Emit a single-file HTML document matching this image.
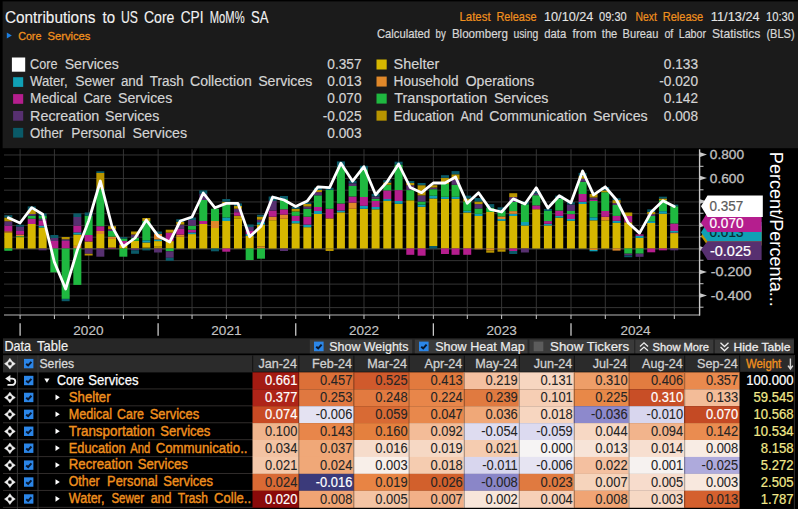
<!DOCTYPE html>
<html><head><meta charset="utf-8"><title>Contributions to US Core CPI MoM% SA</title>
<style>html,body{margin:0;padding:0;background:#000;overflow:hidden}svg{display:block}text{font-family:"Liberation Sans",sans-serif}</style>
</head><body>
<svg width="798" height="509" viewBox="0 0 798 509">
<rect x="0.00" y="0.00" width="798.00" height="509.00" fill="#000"/>
<rect x="2.60" y="1.40" width="795.40" height="146.80" fill="#1b1b1b"/>
<text y="23" font-size="16.5" fill="#f2f2f2" stroke="#f2f2f2" stroke-width="0.12"><tspan x="4.9" textLength="90.5" lengthAdjust="spacingAndGlyphs">Contributions</tspan> <tspan x="102.5" textLength="12.5" lengthAdjust="spacingAndGlyphs">to</tspan> <tspan x="121" textLength="16.9" lengthAdjust="spacingAndGlyphs">US</tspan> <tspan x="143.9" textLength="30.5" lengthAdjust="spacingAndGlyphs">Core</tspan> <tspan x="180.7" textLength="22.8" lengthAdjust="spacingAndGlyphs">CPI</tspan> <tspan x="209.8" textLength="34.8" lengthAdjust="spacingAndGlyphs">MoM%</tspan> <tspan x="250.9" textLength="17.5" lengthAdjust="spacingAndGlyphs">SA</tspan></text>
<path d="M6.8 32.4 L11.8 35.45 L6.8 38.5 Z" fill="#1e7fe0"/>
<text y="39.5" font-size="11.8" fill="#f0901e" stroke="#f0901e" stroke-width="0.3"><tspan x="18.2" textLength="23.2" lengthAdjust="spacingAndGlyphs">Core</tspan> <tspan x="47.4" textLength="43.1" lengthAdjust="spacingAndGlyphs">Services</tspan></text>
<text y="21" font-size="11.9" fill="#f0901e" stroke="#f0901e" stroke-width="0.2"><tspan x="459.5" textLength="31.1" lengthAdjust="spacingAndGlyphs">Latest</tspan> <tspan x="496.4" textLength="40.1" lengthAdjust="spacingAndGlyphs">Release</tspan></text>
<text y="21" font-size="11.9" fill="#e4e4e4" stroke="#e4e4e4" stroke-width="0.1"><tspan x="544" textLength="49.4" lengthAdjust="spacingAndGlyphs">10/10/24</tspan> <tspan x="599.1" textLength="27.6" lengthAdjust="spacingAndGlyphs">09:30</tspan></text>
<text y="21" font-size="11.9" fill="#f0901e" stroke="#f0901e" stroke-width="0.2"><tspan x="635.6" textLength="21.3" lengthAdjust="spacingAndGlyphs">Next</tspan> <tspan x="662.7" textLength="40.6" lengthAdjust="spacingAndGlyphs">Release</tspan></text>
<text y="21" font-size="11.9" fill="#e4e4e4" stroke="#e4e4e4" stroke-width="0.1"><tspan x="710.8" textLength="48.9" lengthAdjust="spacingAndGlyphs">11/13/24</tspan> <tspan x="765.9" textLength="28.1" lengthAdjust="spacingAndGlyphs">10:30</tspan></text>
<text y="37.8" font-size="11.9" fill="#d6d6d6" stroke="#d6d6d6" stroke-width="0.2"><tspan x="376.9" textLength="53.2" lengthAdjust="spacingAndGlyphs">Calculated</tspan> <tspan x="435.6" textLength="10.2" lengthAdjust="spacingAndGlyphs">by</tspan> <tspan x="451.9" textLength="56.0" lengthAdjust="spacingAndGlyphs">Bloomberg</tspan> <tspan x="513.4" textLength="24.8" lengthAdjust="spacingAndGlyphs">using</tspan> <tspan x="544.3" textLength="22.0" lengthAdjust="spacingAndGlyphs">data</tspan> <tspan x="572.5" textLength="23.9" lengthAdjust="spacingAndGlyphs">from</tspan> <tspan x="601.8" textLength="15.5" lengthAdjust="spacingAndGlyphs">the</tspan> <tspan x="622.6" textLength="35.8" lengthAdjust="spacingAndGlyphs">Bureau</tspan> <tspan x="664.4" textLength="8.9" lengthAdjust="spacingAndGlyphs">of</tspan> <tspan x="678.7" textLength="27.4" lengthAdjust="spacingAndGlyphs">Labor</tspan> <tspan x="712" textLength="48.4" lengthAdjust="spacingAndGlyphs">Statistics</tspan> <tspan x="766.4" textLength="28.3" lengthAdjust="spacingAndGlyphs">(BLS)</tspan></text>
<rect x="11.90" y="57.50" width="13.30" height="14.20" fill="#ffffff"/>
<text y="69.3" font-size="14.0" fill="#d4d4d4" stroke="#d4d4d4" stroke-width="0.18"><tspan x="30.1" textLength="27.4" lengthAdjust="spacingAndGlyphs">Core</tspan> <tspan x="64.7" textLength="54.1" lengthAdjust="spacingAndGlyphs">Services</tspan></text>
<text x="361.5" y="69.3" font-size="14.0" fill="#d4d4d4" text-anchor="end" textLength="34.16" lengthAdjust="spacingAndGlyphs" stroke="#d4d4d4" stroke-width="0.18">0.357</text>
<rect x="13.10" y="77.20" width="10.10" height="9.70" fill="#10a0b5"/>
<text y="86.35" font-size="14.0" fill="#d4d4d4" stroke="#d4d4d4" stroke-width="0.18"><tspan x="30.1" textLength="37.5" lengthAdjust="spacingAndGlyphs">Water,</tspan> <tspan x="75.3" textLength="39.2" lengthAdjust="spacingAndGlyphs">Sewer</tspan> <tspan x="120.9" textLength="22.4" lengthAdjust="spacingAndGlyphs">and</tspan> <tspan x="149.7" textLength="34.0" lengthAdjust="spacingAndGlyphs">Trash</tspan> <tspan x="190" textLength="61.8" lengthAdjust="spacingAndGlyphs">Collection</tspan> <tspan x="258.2" textLength="54.1" lengthAdjust="spacingAndGlyphs">Services</tspan></text>
<text x="361.5" y="86.35" font-size="14.0" fill="#d4d4d4" text-anchor="end" textLength="34.16" lengthAdjust="spacingAndGlyphs" stroke="#d4d4d4" stroke-width="0.18">0.013</text>
<rect x="13.10" y="94.10" width="10.10" height="9.70" fill="#b51e8e"/>
<text y="103.4" font-size="14.0" fill="#d4d4d4" stroke="#d4d4d4" stroke-width="0.18"><tspan x="30.1" textLength="47.0" lengthAdjust="spacingAndGlyphs">Medical</tspan> <tspan x="83.4" textLength="28.2" lengthAdjust="spacingAndGlyphs">Care</tspan> <tspan x="118" textLength="54.2" lengthAdjust="spacingAndGlyphs">Services</tspan></text>
<text x="361.5" y="103.4" font-size="14.0" fill="#d4d4d4" text-anchor="end" textLength="34.16" lengthAdjust="spacingAndGlyphs" stroke="#d4d4d4" stroke-width="0.18">0.070</text>
<rect x="13.10" y="111.00" width="10.10" height="9.70" fill="#573070"/>
<text y="121.25" font-size="14.0" fill="#d4d4d4" stroke="#d4d4d4" stroke-width="0.18"><tspan x="30.1" textLength="69.2" lengthAdjust="spacingAndGlyphs">Recreation</tspan> <tspan x="105" textLength="54.2" lengthAdjust="spacingAndGlyphs">Services</tspan></text>
<text x="361.5" y="121.25" font-size="14.0" fill="#d4d4d4" text-anchor="end" textLength="38.71" lengthAdjust="spacingAndGlyphs" stroke="#d4d4d4" stroke-width="0.18">-0.025</text>
<rect x="13.10" y="127.90" width="10.10" height="9.70" fill="#0a5a68"/>
<text y="137.5" font-size="14.0" fill="#d4d4d4" stroke="#d4d4d4" stroke-width="0.18"><tspan x="30.1" textLength="33.1" lengthAdjust="spacingAndGlyphs">Other</tspan> <tspan x="71.3" textLength="53.9" lengthAdjust="spacingAndGlyphs">Personal</tspan> <tspan x="132.4" textLength="54.7" lengthAdjust="spacingAndGlyphs">Services</tspan></text>
<text x="361.5" y="137.5" font-size="14.0" fill="#d4d4d4" text-anchor="end" textLength="34.16" lengthAdjust="spacingAndGlyphs" stroke="#d4d4d4" stroke-width="0.18">0.003</text>
<rect x="376.50" y="59.50" width="10.20" height="10.00" fill="#d6b700"/>
<text y="69.3" font-size="14.0" fill="#d4d4d4" stroke="#d4d4d4" stroke-width="0.18"><tspan x="393.6" textLength="45.6" lengthAdjust="spacingAndGlyphs">Shelter</tspan></text>
<text x="698" y="69.3" font-size="14.0" fill="#d4d4d4" text-anchor="end" textLength="34.16" lengthAdjust="spacingAndGlyphs" stroke="#d4d4d4" stroke-width="0.18">0.133</text>
<rect x="376.50" y="76.55" width="10.20" height="10.00" fill="#e0882a"/>
<text y="86.35" font-size="14.0" fill="#d4d4d4" stroke="#d4d4d4" stroke-width="0.18"><tspan x="393.6" textLength="64.9" lengthAdjust="spacingAndGlyphs">Household</tspan> <tspan x="465.7" textLength="68.6" lengthAdjust="spacingAndGlyphs">Operations</tspan></text>
<text x="698" y="86.35" font-size="14.0" fill="#d4d4d4" text-anchor="end" textLength="38.71" lengthAdjust="spacingAndGlyphs" stroke="#d4d4d4" stroke-width="0.18">-0.020</text>
<rect x="376.50" y="93.60" width="10.20" height="10.00" fill="#1fb840"/>
<text y="103.4" font-size="14.0" fill="#d4d4d4" stroke="#d4d4d4" stroke-width="0.18"><tspan x="394.2" textLength="93.1" lengthAdjust="spacingAndGlyphs">Transportation</tspan> <tspan x="493.9" textLength="54.5" lengthAdjust="spacingAndGlyphs">Services</tspan></text>
<text x="698" y="103.4" font-size="14.0" fill="#d4d4d4" text-anchor="end" textLength="34.16" lengthAdjust="spacingAndGlyphs" stroke="#d4d4d4" stroke-width="0.18">0.142</text>
<rect x="376.50" y="110.65" width="10.20" height="10.00" fill="#b89500"/>
<text y="121.25" font-size="14.0" fill="#d4d4d4" stroke="#d4d4d4" stroke-width="0.18"><tspan x="393.6" textLength="60.6" lengthAdjust="spacingAndGlyphs">Education</tspan> <tspan x="460.5" textLength="22.5" lengthAdjust="spacingAndGlyphs">And</tspan> <tspan x="489.3" textLength="97.4" lengthAdjust="spacingAndGlyphs">Communication</tspan> <tspan x="593.1" textLength="54.6" lengthAdjust="spacingAndGlyphs">Services</tspan></text>
<text x="698" y="121.25" font-size="14.0" fill="#d4d4d4" text-anchor="end" textLength="34.16" lengthAdjust="spacingAndGlyphs" stroke="#d4d4d4" stroke-width="0.18">0.008</text>
<line x1="4" y1="307.60" x2="699.5" y2="307.60" stroke="#3a3a3a" stroke-width="0.9"/><line x1="4" y1="295.86" x2="699.5" y2="295.86" stroke="#3a3a3a" stroke-width="0.9"/><line x1="4" y1="284.12" x2="699.5" y2="284.12" stroke="#3a3a3a" stroke-width="0.9"/><line x1="4" y1="272.38" x2="699.5" y2="272.38" stroke="#3a3a3a" stroke-width="0.9"/><line x1="4" y1="260.64" x2="699.5" y2="260.64" stroke="#3a3a3a" stroke-width="0.9"/><line x1="4" y1="248.90" x2="699.5" y2="248.90" stroke="#666666" stroke-width="0.9"/><line x1="4" y1="237.16" x2="699.5" y2="237.16" stroke="#3a3a3a" stroke-width="0.9"/><line x1="4" y1="225.42" x2="699.5" y2="225.42" stroke="#3a3a3a" stroke-width="0.9"/><line x1="4" y1="213.68" x2="699.5" y2="213.68" stroke="#3a3a3a" stroke-width="0.9"/><line x1="4" y1="201.94" x2="699.5" y2="201.94" stroke="#3a3a3a" stroke-width="0.9"/><line x1="4" y1="190.20" x2="699.5" y2="190.20" stroke="#3a3a3a" stroke-width="0.9"/><line x1="4" y1="178.46" x2="699.5" y2="178.46" stroke="#3a3a3a" stroke-width="0.9"/><line x1="4" y1="166.72" x2="699.5" y2="166.72" stroke="#3a3a3a" stroke-width="0.9"/><line x1="4" y1="154.98" x2="699.5" y2="154.98" stroke="#3a3a3a" stroke-width="0.9"/><line x1="20.10" y1="149.3" x2="20.10" y2="315" stroke="#3a3a3a" stroke-width="0.9"/><line x1="54.41" y1="149.3" x2="54.41" y2="315" stroke="#3a3a3a" stroke-width="0.9"/><line x1="88.73" y1="149.3" x2="88.73" y2="315" stroke="#3a3a3a" stroke-width="0.9"/><line x1="123.42" y1="149.3" x2="123.42" y2="315" stroke="#3a3a3a" stroke-width="0.9"/><line x1="158.11" y1="149.3" x2="158.11" y2="315" stroke="#3a3a3a" stroke-width="0.9"/><line x1="192.04" y1="149.3" x2="192.04" y2="315" stroke="#3a3a3a" stroke-width="0.9"/><line x1="226.36" y1="149.3" x2="226.36" y2="315" stroke="#3a3a3a" stroke-width="0.9"/><line x1="261.05" y1="149.3" x2="261.05" y2="315" stroke="#3a3a3a" stroke-width="0.9"/><line x1="295.74" y1="149.3" x2="295.74" y2="315" stroke="#3a3a3a" stroke-width="0.9"/><line x1="329.67" y1="149.3" x2="329.67" y2="315" stroke="#3a3a3a" stroke-width="0.9"/><line x1="363.99" y1="149.3" x2="363.99" y2="315" stroke="#3a3a3a" stroke-width="0.9"/><line x1="398.68" y1="149.3" x2="398.68" y2="315" stroke="#3a3a3a" stroke-width="0.9"/><line x1="433.37" y1="149.3" x2="433.37" y2="315" stroke="#3a3a3a" stroke-width="0.9"/><line x1="467.31" y1="149.3" x2="467.31" y2="315" stroke="#3a3a3a" stroke-width="0.9"/><line x1="501.62" y1="149.3" x2="501.62" y2="315" stroke="#3a3a3a" stroke-width="0.9"/><line x1="536.31" y1="149.3" x2="536.31" y2="315" stroke="#3a3a3a" stroke-width="0.9"/><line x1="571.00" y1="149.3" x2="571.00" y2="315" stroke="#3a3a3a" stroke-width="0.9"/><line x1="605.31" y1="149.3" x2="605.31" y2="315" stroke="#3a3a3a" stroke-width="0.9"/><line x1="639.63" y1="149.3" x2="639.63" y2="315" stroke="#3a3a3a" stroke-width="0.9"/><line x1="674.32" y1="149.3" x2="674.32" y2="315" stroke="#3a3a3a" stroke-width="0.9"/>
<rect x="4.33" y="232.70" width="8.0" height="15.80" fill="#d6b700"/><rect x="4.33" y="231.30" width="8.0" height="1.40" fill="#e0882a"/><rect x="4.33" y="225.70" width="8.0" height="5.60" fill="#b51e8e"/><rect x="4.33" y="221.30" width="8.0" height="4.40" fill="#573070"/><rect x="4.33" y="217.50" width="8.0" height="3.80" fill="#b89500"/><rect x="4.33" y="215.20" width="8.0" height="2.30" fill="#0a5a68"/><rect x="4.33" y="248.50" width="8.0" height="2.30" fill="#1fb840"/><rect x="16.02" y="237.10" width="8.0" height="11.40" fill="#d6b700"/><rect x="16.02" y="236.20" width="8.0" height="0.90" fill="#1fb840"/><rect x="16.02" y="234.50" width="8.0" height="1.70" fill="#e0882a"/><rect x="16.02" y="231.00" width="8.0" height="3.50" fill="#b51e8e"/><rect x="16.02" y="226.60" width="8.0" height="4.40" fill="#573070"/><rect x="16.02" y="224.80" width="8.0" height="1.80" fill="#0a5a68"/><rect x="27.71" y="224.00" width="8.0" height="24.50" fill="#d6b700"/><rect x="27.71" y="218.70" width="8.0" height="5.30" fill="#b51e8e"/><rect x="27.71" y="215.70" width="8.0" height="3.00" fill="#1fb840"/><rect x="27.71" y="214.00" width="8.0" height="1.70" fill="#573070"/><rect x="27.71" y="210.00" width="8.0" height="4.00" fill="#b89500"/><rect x="27.71" y="206.40" width="8.0" height="3.60" fill="#0a5a68"/><rect x="38.65" y="227.50" width="8.0" height="21.00" fill="#d6b700"/><rect x="38.65" y="225.70" width="8.0" height="1.80" fill="#10a0b5"/><rect x="38.65" y="220.40" width="8.0" height="5.30" fill="#b51e8e"/><rect x="38.65" y="218.70" width="8.0" height="1.70" fill="#573070"/><rect x="38.65" y="216.00" width="8.0" height="2.70" fill="#1fb840"/><rect x="38.65" y="213.40" width="8.0" height="2.60" fill="#0a5a68"/><rect x="38.65" y="248.50" width="8.0" height="1.80" fill="#573070"/><rect x="50.34" y="241.00" width="8.0" height="7.50" fill="#b51e8e"/><rect x="50.34" y="238.00" width="8.0" height="3.00" fill="#573070"/><rect x="50.34" y="235.00" width="8.0" height="3.00" fill="#0a5a68"/><rect x="50.34" y="248.50" width="8.0" height="23.80" fill="#1fb840"/><rect x="61.65" y="241.00" width="8.0" height="7.50" fill="#b51e8e"/><rect x="61.65" y="239.30" width="8.0" height="1.70" fill="#573070"/><rect x="61.65" y="237.00" width="8.0" height="2.30" fill="#b89500"/><rect x="61.65" y="248.50" width="8.0" height="50.40" fill="#1fb840"/><rect x="61.65" y="298.90" width="8.0" height="2.30" fill="#0a5a68"/><rect x="73.34" y="245.90" width="8.0" height="2.60" fill="#e0882a"/><rect x="73.34" y="234.50" width="8.0" height="11.40" fill="#d6b700"/><rect x="73.34" y="232.40" width="8.0" height="2.10" fill="#10a0b5"/><rect x="73.34" y="225.70" width="8.0" height="6.70" fill="#b51e8e"/><rect x="73.34" y="217.00" width="8.0" height="8.70" fill="#573070"/><rect x="73.34" y="213.40" width="8.0" height="3.60" fill="#0a5a68"/><rect x="73.34" y="248.50" width="8.0" height="36.40" fill="#1fb840"/><rect x="84.65" y="241.50" width="8.0" height="7.00" fill="#d6b700"/><rect x="84.65" y="235.00" width="8.0" height="6.50" fill="#b51e8e"/><rect x="84.65" y="215.70" width="8.0" height="19.30" fill="#1fb840"/><rect x="84.65" y="212.50" width="8.0" height="3.20" fill="#0a5a68"/><rect x="84.65" y="248.50" width="8.0" height="5.30" fill="#573070"/><rect x="84.65" y="253.80" width="8.0" height="1.70" fill="#b89500"/><rect x="96.34" y="234.00" width="8.0" height="14.50" fill="#d6b700"/><rect x="96.34" y="231.00" width="8.0" height="3.00" fill="#e0882a"/><rect x="96.34" y="226.20" width="8.0" height="4.80" fill="#b51e8e"/><rect x="96.34" y="188.90" width="8.0" height="37.30" fill="#1fb840"/><rect x="96.34" y="173.00" width="8.0" height="15.90" fill="#b89500"/><rect x="96.34" y="171.30" width="8.0" height="1.70" fill="#0a5a68"/><rect x="96.34" y="248.50" width="8.0" height="8.20" fill="#573070"/><rect x="108.03" y="247.60" width="8.0" height="0.90" fill="#b51e8e"/><rect x="108.03" y="238.90" width="8.0" height="8.70" fill="#d6b700"/><rect x="108.03" y="236.60" width="8.0" height="2.30" fill="#e0882a"/><rect x="108.03" y="231.00" width="8.0" height="5.60" fill="#1fb840"/><rect x="108.03" y="229.20" width="8.0" height="1.80" fill="#573070"/><rect x="108.03" y="226.20" width="8.0" height="3.00" fill="#b89500"/><rect x="119.34" y="245.00" width="8.0" height="3.50" fill="#d6b700"/><rect x="119.34" y="241.00" width="8.0" height="4.00" fill="#b51e8e"/><rect x="119.34" y="238.50" width="8.0" height="2.50" fill="#1fb840"/><rect x="119.34" y="237.10" width="8.0" height="1.40" fill="#0a5a68"/><rect x="119.34" y="248.50" width="8.0" height="8.20" fill="#1fb840"/><rect x="131.03" y="240.80" width="8.0" height="7.70" fill="#d6b700"/><rect x="131.03" y="237.60" width="8.0" height="3.20" fill="#1fb840"/><rect x="131.03" y="234.50" width="8.0" height="3.10" fill="#573070"/><rect x="131.03" y="231.50" width="8.0" height="3.00" fill="#b89500"/><rect x="131.03" y="248.50" width="8.0" height="1.80" fill="#573070"/><rect x="131.03" y="250.30" width="8.0" height="3.50" fill="#0a5a68"/><rect x="142.34" y="247.30" width="8.0" height="1.20" fill="#b89500"/><rect x="142.34" y="242.50" width="8.0" height="4.80" fill="#d6b700"/><rect x="142.34" y="240.30" width="8.0" height="2.20" fill="#10a0b5"/><rect x="142.34" y="221.00" width="8.0" height="19.30" fill="#1fb840"/><rect x="142.34" y="218.00" width="8.0" height="3.00" fill="#b89500"/><rect x="142.34" y="248.50" width="8.0" height="1.90" fill="#0a5a68"/><rect x="154.03" y="246.70" width="8.0" height="1.80" fill="#b89500"/><rect x="154.03" y="241.10" width="8.0" height="5.60" fill="#d6b700"/><rect x="154.03" y="239.40" width="8.0" height="1.70" fill="#10a0b5"/><rect x="154.03" y="234.00" width="8.0" height="5.40" fill="#e0882a"/><rect x="154.03" y="231.50" width="8.0" height="2.50" fill="#0a5a68"/><rect x="154.03" y="248.50" width="8.0" height="4.00" fill="#573070"/><rect x="165.72" y="241.10" width="8.0" height="7.40" fill="#d6b700"/><rect x="165.72" y="232.70" width="8.0" height="8.40" fill="#b51e8e"/><rect x="165.72" y="229.70" width="8.0" height="3.00" fill="#b89500"/><rect x="165.72" y="248.50" width="8.0" height="2.80" fill="#1fb840"/><rect x="165.72" y="251.30" width="8.0" height="6.50" fill="#573070"/><rect x="165.72" y="257.80" width="8.0" height="3.00" fill="#0a5a68"/><rect x="176.28" y="236.80" width="8.0" height="11.70" fill="#d6b700"/><rect x="176.28" y="234.60" width="8.0" height="2.20" fill="#e0882a"/><rect x="176.28" y="228.90" width="8.0" height="5.70" fill="#b51e8e"/><rect x="176.28" y="224.50" width="8.0" height="4.40" fill="#573070"/><rect x="176.28" y="221.80" width="8.0" height="2.70" fill="#b89500"/><rect x="176.28" y="219.20" width="8.0" height="2.60" fill="#0a5a68"/><rect x="187.97" y="234.10" width="8.0" height="14.40" fill="#d6b700"/><rect x="187.97" y="232.40" width="8.0" height="1.70" fill="#10a0b5"/><rect x="187.97" y="229.70" width="8.0" height="2.70" fill="#b51e8e"/><rect x="187.97" y="225.70" width="8.0" height="4.00" fill="#1fb840"/><rect x="187.97" y="220.00" width="8.0" height="5.70" fill="#573070"/><rect x="187.97" y="217.50" width="8.0" height="2.50" fill="#0a5a68"/><rect x="199.28" y="224.00" width="8.0" height="24.50" fill="#d6b700"/><rect x="199.28" y="221.00" width="8.0" height="3.00" fill="#b51e8e"/><rect x="199.28" y="200.00" width="8.0" height="21.00" fill="#1fb840"/><rect x="199.28" y="193.80" width="8.0" height="6.20" fill="#573070"/><rect x="199.28" y="190.30" width="8.0" height="3.50" fill="#0a5a68"/><rect x="210.97" y="228.00" width="8.0" height="20.50" fill="#d6b700"/><rect x="210.97" y="221.00" width="8.0" height="7.00" fill="#e0882a"/><rect x="210.97" y="208.70" width="8.0" height="12.30" fill="#1fb840"/><rect x="210.97" y="248.50" width="8.0" height="2.80" fill="#0a5a68"/><rect x="222.28" y="221.00" width="8.0" height="27.50" fill="#d6b700"/><rect x="222.28" y="217.50" width="8.0" height="3.50" fill="#10a0b5"/><rect x="222.28" y="204.30" width="8.0" height="13.20" fill="#1fb840"/><rect x="222.28" y="201.70" width="8.0" height="2.60" fill="#b89500"/><rect x="222.28" y="199.00" width="8.0" height="2.70" fill="#0a5a68"/><rect x="222.28" y="248.50" width="8.0" height="3.20" fill="#b51e8e"/><rect x="233.97" y="218.30" width="8.0" height="30.20" fill="#d6b700"/><rect x="233.97" y="215.70" width="8.0" height="2.60" fill="#b89500"/><rect x="233.97" y="212.20" width="8.0" height="3.50" fill="#b51e8e"/><rect x="233.97" y="208.70" width="8.0" height="3.50" fill="#573070"/><rect x="233.97" y="206.00" width="8.0" height="2.70" fill="#b89500"/><rect x="233.97" y="203.40" width="8.0" height="2.60" fill="#0a5a68"/><rect x="245.66" y="235.90" width="8.0" height="12.60" fill="#d6b700"/><rect x="245.66" y="234.10" width="8.0" height="1.80" fill="#10a0b5"/><rect x="245.66" y="231.00" width="8.0" height="3.10" fill="#b51e8e"/><rect x="245.66" y="227.00" width="8.0" height="4.00" fill="#573070"/><rect x="245.66" y="224.50" width="8.0" height="2.50" fill="#0a5a68"/><rect x="245.66" y="248.50" width="8.0" height="11.50" fill="#1fb840"/><rect x="256.97" y="246.40" width="8.0" height="2.10" fill="#e0882a"/><rect x="256.97" y="224.50" width="8.0" height="21.90" fill="#d6b700"/><rect x="256.97" y="222.20" width="8.0" height="2.30" fill="#10a0b5"/><rect x="256.97" y="219.70" width="8.0" height="2.50" fill="#573070"/><rect x="256.97" y="216.60" width="8.0" height="3.10" fill="#b89500"/><rect x="256.97" y="214.80" width="8.0" height="1.80" fill="#0a5a68"/><rect x="256.97" y="248.50" width="8.0" height="10.20" fill="#1fb840"/><rect x="268.66" y="220.20" width="8.0" height="28.30" fill="#d6b700"/><rect x="268.66" y="216.70" width="8.0" height="3.50" fill="#e0882a"/><rect x="268.66" y="210.50" width="8.0" height="6.20" fill="#b51e8e"/><rect x="268.66" y="200.90" width="8.0" height="9.60" fill="#573070"/><rect x="268.66" y="196.50" width="8.0" height="4.40" fill="#0a5a68"/><rect x="279.97" y="218.80" width="8.0" height="29.70" fill="#d6b700"/><rect x="279.97" y="214.60" width="8.0" height="4.20" fill="#e0882a"/><rect x="279.97" y="209.30" width="8.0" height="5.30" fill="#b51e8e"/><rect x="279.97" y="199.10" width="8.0" height="10.20" fill="#1fb840"/><rect x="279.97" y="196.00" width="8.0" height="3.10" fill="#0a5a68"/><rect x="279.97" y="248.50" width="8.0" height="2.50" fill="#573070"/><rect x="291.66" y="223.30" width="8.0" height="25.20" fill="#d6b700"/><rect x="291.66" y="221.00" width="8.0" height="2.30" fill="#10a0b5"/><rect x="291.66" y="215.80" width="8.0" height="5.20" fill="#b51e8e"/><rect x="291.66" y="211.40" width="8.0" height="4.40" fill="#1fb840"/><rect x="291.66" y="208.80" width="8.0" height="2.60" fill="#b89500"/><rect x="291.66" y="207.00" width="8.0" height="1.80" fill="#0a5a68"/><rect x="303.35" y="227.20" width="8.0" height="21.30" fill="#d6b700"/><rect x="303.35" y="224.60" width="8.0" height="2.60" fill="#10a0b5"/><rect x="303.35" y="216.70" width="8.0" height="7.90" fill="#b51e8e"/><rect x="303.35" y="208.80" width="8.0" height="7.90" fill="#1fb840"/><rect x="303.35" y="206.50" width="8.0" height="2.30" fill="#573070"/><rect x="303.35" y="204.00" width="8.0" height="2.50" fill="#b89500"/><rect x="303.35" y="202.60" width="8.0" height="1.40" fill="#0a5a68"/><rect x="313.91" y="214.00" width="8.0" height="34.50" fill="#d6b700"/><rect x="313.91" y="211.00" width="8.0" height="3.00" fill="#10a0b5"/><rect x="313.91" y="207.00" width="8.0" height="4.00" fill="#b51e8e"/><rect x="313.91" y="195.30" width="8.0" height="11.70" fill="#1fb840"/><rect x="313.91" y="192.10" width="8.0" height="3.20" fill="#573070"/><rect x="313.91" y="190.00" width="8.0" height="2.10" fill="#b89500"/><rect x="313.91" y="187.70" width="8.0" height="2.30" fill="#0a5a68"/><rect x="325.60" y="218.40" width="8.0" height="30.10" fill="#d6b700"/><rect x="325.60" y="208.80" width="8.0" height="9.60" fill="#b51e8e"/><rect x="325.60" y="190.00" width="8.0" height="18.80" fill="#1fb840"/><rect x="325.60" y="187.70" width="8.0" height="2.30" fill="#0a5a68"/><rect x="325.60" y="248.50" width="8.0" height="2.50" fill="#b89500"/><rect x="336.91" y="212.30" width="8.0" height="36.20" fill="#d6b700"/><rect x="336.91" y="210.50" width="8.0" height="1.80" fill="#10a0b5"/><rect x="336.91" y="203.50" width="8.0" height="7.00" fill="#b51e8e"/><rect x="336.91" y="166.70" width="8.0" height="36.80" fill="#1fb840"/><rect x="336.91" y="161.40" width="8.0" height="5.30" fill="#0a5a68"/><rect x="348.60" y="208.80" width="8.0" height="39.70" fill="#d6b700"/><rect x="348.60" y="202.60" width="8.0" height="6.20" fill="#e0882a"/><rect x="348.60" y="196.50" width="8.0" height="6.10" fill="#b51e8e"/><rect x="348.60" y="186.00" width="8.0" height="10.50" fill="#1fb840"/><rect x="348.60" y="183.30" width="8.0" height="2.70" fill="#573070"/><rect x="348.60" y="180.70" width="8.0" height="2.60" fill="#0a5a68"/><rect x="359.91" y="208.80" width="8.0" height="39.70" fill="#d6b700"/><rect x="359.91" y="205.80" width="8.0" height="3.00" fill="#10a0b5"/><rect x="359.91" y="197.00" width="8.0" height="8.80" fill="#b51e8e"/><rect x="359.91" y="169.30" width="8.0" height="27.70" fill="#1fb840"/><rect x="359.91" y="165.80" width="8.0" height="3.50" fill="#0a5a68"/><rect x="371.60" y="209.30" width="8.0" height="39.20" fill="#d6b700"/><rect x="371.60" y="207.00" width="8.0" height="2.30" fill="#10a0b5"/><rect x="371.60" y="200.90" width="8.0" height="6.10" fill="#b51e8e"/><rect x="371.60" y="198.80" width="8.0" height="2.10" fill="#1fb840"/><rect x="371.60" y="196.50" width="8.0" height="2.30" fill="#573070"/><rect x="371.60" y="193.90" width="8.0" height="2.60" fill="#0a5a68"/><rect x="383.29" y="200.90" width="8.0" height="47.60" fill="#d6b700"/><rect x="383.29" y="199.10" width="8.0" height="1.80" fill="#10a0b5"/><rect x="383.29" y="190.40" width="8.0" height="8.70" fill="#b51e8e"/><rect x="383.29" y="184.70" width="8.0" height="5.70" fill="#1fb840"/><rect x="383.29" y="182.50" width="8.0" height="2.20" fill="#b89500"/><rect x="383.29" y="180.20" width="8.0" height="2.30" fill="#0a5a68"/><rect x="394.60" y="203.80" width="8.0" height="44.70" fill="#d6b700"/><rect x="394.60" y="201.00" width="8.0" height="2.80" fill="#10a0b5"/><rect x="394.60" y="190.10" width="8.0" height="10.90" fill="#b51e8e"/><rect x="394.60" y="164.60" width="8.0" height="25.50" fill="#1fb840"/><rect x="394.60" y="161.70" width="8.0" height="2.90" fill="#0a5a68"/><rect x="406.29" y="200.30" width="8.0" height="48.20" fill="#d6b700"/><rect x="406.29" y="190.10" width="8.0" height="10.20" fill="#1fb840"/><rect x="406.29" y="185.20" width="8.0" height="4.90" fill="#573070"/><rect x="406.29" y="183.00" width="8.0" height="2.20" fill="#b89500"/><rect x="406.29" y="181.00" width="8.0" height="2.00" fill="#0a5a68"/><rect x="406.29" y="248.50" width="8.0" height="6.30" fill="#b51e8e"/><rect x="417.60" y="206.80" width="8.0" height="41.70" fill="#d6b700"/><rect x="417.60" y="204.60" width="8.0" height="2.20" fill="#10a0b5"/><rect x="417.60" y="201.50" width="8.0" height="3.10" fill="#1fb840"/><rect x="417.60" y="195.40" width="8.0" height="6.10" fill="#573070"/><rect x="417.60" y="185.20" width="8.0" height="10.20" fill="#b89500"/><rect x="417.60" y="183.00" width="8.0" height="2.20" fill="#0a5a68"/><rect x="417.60" y="248.50" width="8.0" height="7.20" fill="#b51e8e"/><rect x="429.29" y="246.00" width="8.0" height="2.50" fill="#0a5a68"/><rect x="429.29" y="198.50" width="8.0" height="47.50" fill="#d6b700"/><rect x="429.29" y="195.70" width="8.0" height="2.80" fill="#10a0b5"/><rect x="429.29" y="189.20" width="8.0" height="6.50" fill="#1fb840"/><rect x="429.29" y="187.50" width="8.0" height="1.70" fill="#573070"/><rect x="429.29" y="185.20" width="8.0" height="2.30" fill="#b89500"/><rect x="440.98" y="198.90" width="8.0" height="49.60" fill="#d6b700"/><rect x="440.98" y="196.80" width="8.0" height="2.10" fill="#10a0b5"/><rect x="440.98" y="184.00" width="8.0" height="12.80" fill="#1fb840"/><rect x="440.98" y="177.80" width="8.0" height="6.20" fill="#b89500"/><rect x="440.98" y="175.20" width="8.0" height="2.60" fill="#0a5a68"/><rect x="440.98" y="248.50" width="8.0" height="5.50" fill="#b51e8e"/><rect x="451.54" y="198.90" width="8.0" height="49.60" fill="#d6b700"/><rect x="451.54" y="196.80" width="8.0" height="2.10" fill="#10a0b5"/><rect x="451.54" y="184.80" width="8.0" height="12.00" fill="#1fb840"/><rect x="451.54" y="179.60" width="8.0" height="5.20" fill="#573070"/><rect x="451.54" y="174.30" width="8.0" height="5.30" fill="#b89500"/><rect x="451.54" y="171.10" width="8.0" height="3.20" fill="#0a5a68"/><rect x="451.54" y="248.50" width="8.0" height="6.30" fill="#b51e8e"/><rect x="463.23" y="212.50" width="8.0" height="36.00" fill="#d6b700"/><rect x="463.23" y="210.80" width="8.0" height="1.70" fill="#10a0b5"/><rect x="463.23" y="201.50" width="8.0" height="9.30" fill="#1fb840"/><rect x="463.23" y="198.50" width="8.0" height="3.00" fill="#b89500"/><rect x="463.23" y="195.70" width="8.0" height="2.80" fill="#0a5a68"/><rect x="463.23" y="248.50" width="8.0" height="6.30" fill="#b51e8e"/><rect x="474.54" y="216.00" width="8.0" height="32.50" fill="#d6b700"/><rect x="474.54" y="213.80" width="8.0" height="2.20" fill="#10a0b5"/><rect x="474.54" y="208.50" width="8.0" height="5.30" fill="#1fb840"/><rect x="474.54" y="204.10" width="8.0" height="4.40" fill="#573070"/><rect x="474.54" y="201.50" width="8.0" height="2.60" fill="#b89500"/><rect x="474.54" y="198.00" width="8.0" height="3.50" fill="#0a5a68"/><rect x="474.54" y="248.50" width="8.0" height="0.80" fill="#e0882a"/><rect x="486.23" y="212.00" width="8.0" height="36.50" fill="#d6b700"/><rect x="486.23" y="207.60" width="8.0" height="4.40" fill="#1fb840"/><rect x="486.23" y="204.10" width="8.0" height="3.50" fill="#0a5a68"/><rect x="486.23" y="248.50" width="8.0" height="2.00" fill="#e0882a"/><rect x="486.23" y="250.50" width="8.0" height="2.20" fill="#b89500"/><rect x="497.54" y="220.80" width="8.0" height="27.70" fill="#d6b700"/><rect x="497.54" y="219.00" width="8.0" height="1.80" fill="#10a0b5"/><rect x="497.54" y="216.40" width="8.0" height="2.60" fill="#e0882a"/><rect x="497.54" y="210.80" width="8.0" height="5.60" fill="#1fb840"/><rect x="497.54" y="207.30" width="8.0" height="3.50" fill="#0a5a68"/><rect x="497.54" y="248.50" width="8.0" height="1.00" fill="#e0882a"/><rect x="497.54" y="249.50" width="8.0" height="2.20" fill="#b89500"/><rect x="509.23" y="216.00" width="8.0" height="32.50" fill="#d6b700"/><rect x="509.23" y="213.80" width="8.0" height="2.20" fill="#10a0b5"/><rect x="509.23" y="211.10" width="8.0" height="2.70" fill="#e0882a"/><rect x="509.23" y="202.00" width="8.0" height="9.10" fill="#1fb840"/><rect x="509.23" y="197.10" width="8.0" height="4.90" fill="#573070"/><rect x="509.23" y="193.20" width="8.0" height="3.90" fill="#b89500"/><rect x="509.23" y="248.50" width="8.0" height="2.50" fill="#b51e8e"/><rect x="509.23" y="251.00" width="8.0" height="3.00" fill="#0a5a68"/><rect x="520.92" y="225.50" width="8.0" height="23.00" fill="#d6b700"/><rect x="520.92" y="222.00" width="8.0" height="3.50" fill="#10a0b5"/><rect x="520.92" y="204.30" width="8.0" height="17.70" fill="#1fb840"/><rect x="520.92" y="201.50" width="8.0" height="2.80" fill="#0a5a68"/><rect x="520.92" y="248.50" width="8.0" height="4.00" fill="#573070"/><rect x="532.23" y="209.20" width="8.0" height="39.30" fill="#d6b700"/><rect x="532.23" y="205.40" width="8.0" height="3.80" fill="#b51e8e"/><rect x="532.23" y="195.20" width="8.0" height="10.20" fill="#1fb840"/><rect x="532.23" y="193.50" width="8.0" height="1.70" fill="#573070"/><rect x="532.23" y="191.30" width="8.0" height="2.20" fill="#0a5a68"/><rect x="543.92" y="225.50" width="8.0" height="23.00" fill="#d6b700"/><rect x="543.92" y="223.80" width="8.0" height="1.70" fill="#10a0b5"/><rect x="543.92" y="221.10" width="8.0" height="2.70" fill="#b51e8e"/><rect x="543.92" y="211.00" width="8.0" height="10.10" fill="#1fb840"/><rect x="543.92" y="208.90" width="8.0" height="2.10" fill="#0a5a68"/><rect x="555.23" y="217.60" width="8.0" height="30.90" fill="#d6b700"/><rect x="555.23" y="215.90" width="8.0" height="1.70" fill="#10a0b5"/><rect x="555.23" y="210.60" width="8.0" height="5.30" fill="#b51e8e"/><rect x="555.23" y="198.70" width="8.0" height="11.90" fill="#1fb840"/><rect x="555.23" y="195.70" width="8.0" height="3.00" fill="#0a5a68"/><rect x="566.92" y="220.80" width="8.0" height="27.70" fill="#d6b700"/><rect x="566.92" y="219.00" width="8.0" height="1.80" fill="#10a0b5"/><rect x="566.92" y="214.10" width="8.0" height="4.90" fill="#b51e8e"/><rect x="566.92" y="211.00" width="8.0" height="3.10" fill="#1fb840"/><rect x="566.92" y="204.50" width="8.0" height="6.50" fill="#573070"/><rect x="566.92" y="202.20" width="8.0" height="2.30" fill="#0a5a68"/><rect x="578.61" y="204.00" width="8.0" height="44.50" fill="#d6b700"/><rect x="578.61" y="201.80" width="8.0" height="2.20" fill="#10a0b5"/><rect x="578.61" y="194.00" width="8.0" height="7.80" fill="#b51e8e"/><rect x="578.61" y="181.70" width="8.0" height="12.30" fill="#1fb840"/><rect x="578.61" y="178.70" width="8.0" height="3.00" fill="#573070"/><rect x="578.61" y="175.90" width="8.0" height="2.80" fill="#b89500"/><rect x="578.61" y="172.90" width="8.0" height="3.00" fill="#0a5a68"/><rect x="589.55" y="220.30" width="8.0" height="28.20" fill="#d6b700"/><rect x="589.55" y="217.30" width="8.0" height="3.00" fill="#10a0b5"/><rect x="589.55" y="201.00" width="8.0" height="16.30" fill="#1fb840"/><rect x="589.55" y="199.70" width="8.0" height="1.30" fill="#b51e8e"/><rect x="589.55" y="197.50" width="8.0" height="2.20" fill="#573070"/><rect x="589.55" y="194.00" width="8.0" height="3.50" fill="#b89500"/><rect x="589.55" y="248.50" width="8.0" height="1.50" fill="#e0882a"/><rect x="589.55" y="250.00" width="8.0" height="1.30" fill="#10a0b5"/><rect x="601.24" y="220.30" width="8.0" height="28.20" fill="#d6b700"/><rect x="601.24" y="216.80" width="8.0" height="3.50" fill="#e0882a"/><rect x="601.24" y="211.00" width="8.0" height="5.80" fill="#b51e8e"/><rect x="601.24" y="192.20" width="8.0" height="18.80" fill="#1fb840"/><rect x="601.24" y="190.40" width="8.0" height="1.80" fill="#b89500"/><rect x="601.24" y="187.00" width="8.0" height="3.40" fill="#0a5a68"/><rect x="612.55" y="222.90" width="8.0" height="25.60" fill="#d6b700"/><rect x="612.55" y="220.80" width="8.0" height="2.10" fill="#10a0b5"/><rect x="612.55" y="215.90" width="8.0" height="4.90" fill="#b51e8e"/><rect x="612.55" y="205.00" width="8.0" height="10.90" fill="#1fb840"/><rect x="612.55" y="203.20" width="8.0" height="1.80" fill="#573070"/><rect x="612.55" y="200.10" width="8.0" height="3.10" fill="#b89500"/><rect x="612.55" y="198.30" width="8.0" height="1.80" fill="#0a5a68"/><rect x="612.55" y="248.50" width="8.0" height="2.10" fill="#e0882a"/><rect x="624.24" y="222.30" width="8.0" height="26.20" fill="#d6b700"/><rect x="624.24" y="216.00" width="8.0" height="6.30" fill="#b51e8e"/><rect x="624.24" y="212.50" width="8.0" height="3.50" fill="#b89500"/><rect x="624.24" y="248.50" width="8.0" height="5.20" fill="#1fb840"/><rect x="624.24" y="253.70" width="8.0" height="1.80" fill="#573070"/><rect x="624.24" y="255.50" width="8.0" height="1.70" fill="#0a5a68"/><rect x="635.55" y="237.90" width="8.0" height="10.60" fill="#d6b700"/><rect x="635.55" y="235.80" width="8.0" height="2.10" fill="#10a0b5"/><rect x="635.55" y="234.40" width="8.0" height="1.40" fill="#b51e8e"/><rect x="635.55" y="248.50" width="8.0" height="5.20" fill="#1fb840"/><rect x="635.55" y="253.70" width="8.0" height="3.10" fill="#573070"/><rect x="647.24" y="223.00" width="8.0" height="25.50" fill="#d6b700"/><rect x="647.24" y="221.20" width="8.0" height="1.80" fill="#10a0b5"/><rect x="647.24" y="216.00" width="8.0" height="5.20" fill="#1fb840"/><rect x="647.24" y="214.20" width="8.0" height="1.80" fill="#573070"/><rect x="647.24" y="212.00" width="8.0" height="2.20" fill="#b89500"/><rect x="647.24" y="209.30" width="8.0" height="2.70" fill="#0a5a68"/><rect x="647.24" y="248.50" width="8.0" height="3.80" fill="#b51e8e"/><rect x="658.93" y="213.70" width="8.0" height="34.80" fill="#d6b700"/><rect x="658.93" y="211.20" width="8.0" height="2.50" fill="#10a0b5"/><rect x="658.93" y="200.20" width="8.0" height="11.00" fill="#1fb840"/><rect x="658.93" y="198.50" width="8.0" height="1.70" fill="#b89500"/><rect x="658.93" y="196.70" width="8.0" height="1.80" fill="#0a5a68"/><rect x="658.93" y="248.50" width="8.0" height="1.80" fill="#b51e8e"/><rect x="670.24" y="234.00" width="8.0" height="14.50" fill="#d6b700"/><rect x="670.24" y="232.60" width="8.0" height="1.40" fill="#e0882a"/><rect x="670.24" y="230.90" width="8.0" height="1.70" fill="#10a0b5"/><rect x="670.24" y="223.50" width="8.0" height="7.40" fill="#b51e8e"/><rect x="670.24" y="206.30" width="8.0" height="17.20" fill="#1fb840"/><rect x="670.24" y="204.60" width="8.0" height="1.70" fill="#0a5a68"/><rect x="670.24" y="248.50" width="8.0" height="1.80" fill="#573070"/>
<polyline points="8.33,217.80 20.02,223.00 31.71,207.60 42.65,214.30 54.34,262.00 65.65,289.00 77.34,250.00 88.65,221.00 100.34,181.00 112.03,226.50 123.34,246.70 135.03,238.00 146.34,220.00 158.03,235.90 169.72,242.00 180.28,221.00 191.97,217.00 203.28,193.00 214.97,207.80 226.28,203.40 237.97,203.40 249.66,236.80 260.97,226.20 272.66,197.00 283.97,200.00 295.66,206.50 307.35,200.90 317.91,186.80 329.60,187.70 340.91,163.20 352.60,181.20 363.91,166.70 375.60,194.70 387.29,181.60 398.60,164.00 410.29,187.50 421.60,192.70 433.29,183.00 444.98,183.00 455.54,177.00 467.23,203.20 478.54,192.70 490.23,209.40 501.54,212.00 513.23,198.90 524.92,204.00 536.23,187.80 547.92,208.00 559.23,195.70 570.92,202.70 582.61,171.00 593.55,194.80 605.24,186.80 616.55,200.00 628.24,222.80 639.55,233.10 651.24,212.10 662.93,200.80 674.24,206.60" fill="none" stroke="#ffffff" stroke-width="2.8" stroke-linejoin="round" stroke-linecap="round"/>
<line x1="4" y1="315" x2="700" y2="315" stroke="#b8b8b8" stroke-width="1.1"/>
<line x1="699.6" y1="149.3" x2="699.6" y2="315.6" stroke="#c8c8c8" stroke-width="1.4"/>
<line x1="20.10" y1="315" x2="20.10" y2="319" stroke="#c8c8c8" stroke-width="1"/><line x1="20.10" y1="323.3" x2="20.10" y2="335.8" stroke="#c8c8c8" stroke-width="1.3"/><line x1="54.41" y1="315" x2="54.41" y2="319" stroke="#c8c8c8" stroke-width="1"/><line x1="88.73" y1="315" x2="88.73" y2="319" stroke="#c8c8c8" stroke-width="1"/><line x1="123.42" y1="315" x2="123.42" y2="319" stroke="#c8c8c8" stroke-width="1"/><line x1="158.11" y1="315" x2="158.11" y2="319" stroke="#c8c8c8" stroke-width="1"/><line x1="158.11" y1="323.3" x2="158.11" y2="335.8" stroke="#c8c8c8" stroke-width="1.3"/><line x1="192.04" y1="315" x2="192.04" y2="319" stroke="#c8c8c8" stroke-width="1"/><line x1="226.36" y1="315" x2="226.36" y2="319" stroke="#c8c8c8" stroke-width="1"/><line x1="261.05" y1="315" x2="261.05" y2="319" stroke="#c8c8c8" stroke-width="1"/><line x1="295.74" y1="315" x2="295.74" y2="319" stroke="#c8c8c8" stroke-width="1"/><line x1="295.74" y1="323.3" x2="295.74" y2="335.8" stroke="#c8c8c8" stroke-width="1.3"/><line x1="329.67" y1="315" x2="329.67" y2="319" stroke="#c8c8c8" stroke-width="1"/><line x1="363.99" y1="315" x2="363.99" y2="319" stroke="#c8c8c8" stroke-width="1"/><line x1="398.68" y1="315" x2="398.68" y2="319" stroke="#c8c8c8" stroke-width="1"/><line x1="433.37" y1="315" x2="433.37" y2="319" stroke="#c8c8c8" stroke-width="1"/><line x1="433.37" y1="323.3" x2="433.37" y2="335.8" stroke="#c8c8c8" stroke-width="1.3"/><line x1="467.31" y1="315" x2="467.31" y2="319" stroke="#c8c8c8" stroke-width="1"/><line x1="501.62" y1="315" x2="501.62" y2="319" stroke="#c8c8c8" stroke-width="1"/><line x1="536.31" y1="315" x2="536.31" y2="319" stroke="#c8c8c8" stroke-width="1"/><line x1="571.00" y1="315" x2="571.00" y2="319" stroke="#c8c8c8" stroke-width="1"/><line x1="571.00" y1="323.3" x2="571.00" y2="335.8" stroke="#c8c8c8" stroke-width="1.3"/><line x1="605.31" y1="315" x2="605.31" y2="319" stroke="#c8c8c8" stroke-width="1"/><line x1="639.63" y1="315" x2="639.63" y2="319" stroke="#c8c8c8" stroke-width="1"/><line x1="674.32" y1="315" x2="674.32" y2="319" stroke="#c8c8c8" stroke-width="1"/>
<text x="88.4" y="335" font-size="13.6" fill="#c4c4c4" text-anchor="middle" stroke="#c4c4c4" stroke-width="0.15">2020</text>
<text x="226.41" y="335" font-size="13.6" fill="#c4c4c4" text-anchor="middle" stroke="#c4c4c4" stroke-width="0.15">2021</text>
<text x="364.04" y="335" font-size="13.6" fill="#c4c4c4" text-anchor="middle" stroke="#c4c4c4" stroke-width="0.15">2022</text>
<text x="501.67" y="335" font-size="13.6" fill="#c4c4c4" text-anchor="middle" stroke="#c4c4c4" stroke-width="0.15">2023</text>
<text x="635.5" y="335" font-size="13.6" fill="#c4c4c4" text-anchor="middle" stroke="#c4c4c4" stroke-width="0.15">2024</text>
<line x1="700" y1="307.20" x2="703.5" y2="307.20" stroke="#c8c8c8" stroke-width="1"/>
<path d="M700 293.16 L707 295.46 L700 297.76 Z" fill="#c8c8c8"/>
<line x1="700" y1="283.72" x2="703.5" y2="283.72" stroke="#c8c8c8" stroke-width="1"/>
<path d="M700 269.68 L707 271.98 L700 274.28 Z" fill="#c8c8c8"/>
<line x1="700" y1="260.24" x2="703.5" y2="260.24" stroke="#c8c8c8" stroke-width="1"/>
<path d="M700 246.20 L707 248.50 L700 250.80 Z" fill="#c8c8c8"/>
<line x1="700" y1="236.76" x2="703.5" y2="236.76" stroke="#c8c8c8" stroke-width="1"/>
<path d="M700 222.72 L707 225.02 L700 227.32 Z" fill="#c8c8c8"/>
<line x1="700" y1="213.28" x2="703.5" y2="213.28" stroke="#c8c8c8" stroke-width="1"/>
<path d="M700 199.24 L707 201.54 L700 203.84 Z" fill="#c8c8c8"/>
<line x1="700" y1="189.80" x2="703.5" y2="189.80" stroke="#c8c8c8" stroke-width="1"/>
<path d="M700 175.76 L707 178.06 L700 180.36 Z" fill="#c8c8c8"/>
<line x1="700" y1="166.32" x2="703.5" y2="166.32" stroke="#c8c8c8" stroke-width="1"/>
<path d="M700 152.28 L707 154.58 L700 156.88 Z" fill="#c8c8c8"/>
<text x="709.8" y="159.08" font-size="13.4" fill="#c0c0c0" textLength="34.2" lengthAdjust="spacingAndGlyphs" stroke="#c0c0c0" stroke-width="0.3">0.800</text>
<text x="709.8" y="182.56" font-size="13.4" fill="#c0c0c0" textLength="34.2" lengthAdjust="spacingAndGlyphs" stroke="#c0c0c0" stroke-width="0.3">0.600</text>
<text x="710.8" y="276.48" font-size="13.4" fill="#c0c0c0" textLength="40.7" lengthAdjust="spacingAndGlyphs" stroke="#c0c0c0" stroke-width="0.3">-0.200</text>
<text x="710.8" y="299.96" font-size="13.4" fill="#c0c0c0" textLength="40.7" lengthAdjust="spacingAndGlyphs" stroke="#c0c0c0" stroke-width="0.3">-0.400</text>
<path d="M701 236.30 L707.5 226.00 L761.6 226.00 L761.6 245.50 L707.5 245.50 Z" fill="#b89500"/>
<path d="M701 232.50 L707.5 222.00 L761.6 222.00 L761.6 241.30 L707.5 241.30 Z" fill="#10a0b5"/>
<text x="709.5" y="236.7" font-size="14.2" fill="#0a2a30" textLength="34" lengthAdjust="spacingAndGlyphs" stroke="#0a2a30" stroke-width="0.2">0.013</text>
<path d="M701 222.70 L707.5 212.30 L761.6 212.30 L761.6 232.00 L707.5 232.00 Z" fill="#b51e8e"/>
<text x="709.5" y="227.8" font-size="14.4" fill="#ffffff" textLength="34" lengthAdjust="spacingAndGlyphs" stroke="#ffffff" stroke-width="0.2">0.070</text>
<path d="M701 206.20 L707.5 195.50 L762.8 195.50 L762.8 217.00 L707.5 217.00 Z" fill="#ffffff"/>
<text x="709.5" y="211.3" font-size="14.6" fill="#5a5a5a" textLength="33.8" lengthAdjust="spacingAndGlyphs" stroke="#5a5a5a" stroke-width="0.2">0.357</text>
<path d="M701 249.60 L707.5 241.30 L761.6 241.30 L761.6 260.00 L707.5 260.00 Z" fill="#573070"/>
<text x="710" y="255.5" font-size="14.4" fill="#ffffff" textLength="41" lengthAdjust="spacingAndGlyphs" stroke="#ffffff" stroke-width="0.2">-0.025</text>
<text transform="translate(769.8,151.8) rotate(90)" font-size="18" fill="#ffffff" textLength="155" lengthAdjust="spacingAndGlyphs">Percent/Percenta...</text>
<rect x="3.00" y="338.30" width="791.00" height="15.20" fill="#262626"/>
<text y="350.6" font-size="13.8" fill="#f0f0f0" stroke="#f0f0f0" stroke-width="0.2"><tspan x="4.4" textLength="26.7" lengthAdjust="spacingAndGlyphs">Data</tspan> <tspan x="37.1" textLength="31.0" lengthAdjust="spacingAndGlyphs">Table</tspan></text>
<rect x="309.80" y="339.60" width="102.40" height="13.60" fill="#3a3a3a"/>
<rect x="314.00" y="341.60" width="9.60" height="9.60" fill="#2b86e8"/>
<path d="M316.20 346.69 L318.22 348.32 L321.60 344.67" fill="none" stroke="#081830" stroke-width="2.0"/>
<text x="329.3" y="351" font-size="13.2" fill="#ececec" textLength="79.2" lengthAdjust="spacingAndGlyphs" stroke="#ececec" stroke-width="0.2">Show Weights</text>
<rect x="414.80" y="339.60" width="112.70" height="13.60" fill="#3a3a3a"/>
<rect x="419.00" y="341.60" width="9.60" height="9.60" fill="#2b86e8"/>
<path d="M421.20 346.69 L423.22 348.32 L426.60 344.67" fill="none" stroke="#081830" stroke-width="2.0"/>
<text x="435.2" y="351" font-size="13.2" fill="#ececec" textLength="89.6" lengthAdjust="spacingAndGlyphs" stroke="#ececec" stroke-width="0.2">Show Heat Map</text>
<rect x="529.50" y="339.60" width="104.50" height="13.60" fill="#3a3a3a"/>
<rect x="533.70" y="341.60" width="9.60" height="9.60" fill="#5c5c5c"/>
<text x="550" y="351" font-size="13.2" fill="#ececec" textLength="79.2" lengthAdjust="spacingAndGlyphs" stroke="#ececec" stroke-width="0.2">Show Tickers</text>
<rect x="635.40" y="339.60" width="77.80" height="13.60" fill="#3a3a3a"/>
<path d="M640 346.5 L644 342.8 L648 346.5 M640 350.8 L644 347.1 L648 350.8" fill="none" stroke="#ececec" stroke-width="1.3"/>
<text x="652.5" y="350.6" font-size="11.6" fill="#ececec" textLength="56.5" lengthAdjust="spacingAndGlyphs" stroke="#ececec" stroke-width="0.3">Show More</text>
<rect x="715.00" y="339.60" width="78.80" height="13.60" fill="#3a3a3a"/>
<path d="M720.5 342.8 L724.5 346.5 L728.5 342.8 M720.5 347.1 L724.5 350.8 L728.5 347.1" fill="none" stroke="#ececec" stroke-width="1.3"/>
<text x="733.5" y="350.6" font-size="11.6" fill="#ececec" textLength="57" lengthAdjust="spacingAndGlyphs" stroke="#ececec" stroke-width="0.3">Hide Table</text>
<rect x="3.00" y="355.20" width="250.00" height="17.20" fill="#2b2b2b"/>
<rect x="253.00" y="355.20" width="486.50" height="16.60" fill="#2b2b2b"/>
<rect x="739.50" y="355.20" width="54.30" height="16.60" fill="#2b2b2b"/>
<text x="39.5" y="368.1" font-size="12.6" fill="#d8d8d8" textLength="34.5" lengthAdjust="spacingAndGlyphs" stroke="#d8d8d8" stroke-width="0.3">Series</text>
<text x="296.9" y="368.3" font-size="12.6" fill="#d0d0d0" text-anchor="end" stroke="#d0d0d0" stroke-width="0.3">Jan-24</text>
<text x="351.9" y="368.3" font-size="12.6" fill="#d0d0d0" text-anchor="end" stroke="#d0d0d0" stroke-width="0.3">Feb-24</text>
<text x="407.1" y="368.3" font-size="12.6" fill="#d0d0d0" text-anchor="end" stroke="#d0d0d0" stroke-width="0.3">Mar-24</text>
<text x="462.3" y="368.3" font-size="12.6" fill="#d0d0d0" text-anchor="end" stroke="#d0d0d0" stroke-width="0.3">Apr-24</text>
<text x="517.3" y="368.3" font-size="12.6" fill="#d0d0d0" text-anchor="end" stroke="#d0d0d0" stroke-width="0.3">May-24</text>
<text x="572.3" y="368.3" font-size="12.6" fill="#d0d0d0" text-anchor="end" stroke="#d0d0d0" stroke-width="0.3">Jun-24</text>
<text x="627.1" y="368.3" font-size="12.6" fill="#d0d0d0" text-anchor="end" stroke="#d0d0d0" stroke-width="0.3">Jul-24</text>
<text x="682.7" y="368.3" font-size="12.6" fill="#d0d0d0" text-anchor="end" stroke="#d0d0d0" stroke-width="0.3">Aug-24</text>
<text x="737.7" y="368.3" font-size="12.6" fill="#d0d0d0" text-anchor="end" stroke="#d0d0d0" stroke-width="0.3">Sep-24</text>
<text x="746" y="368.3" font-size="12.6" fill="#f0901e" textLength="35.2" lengthAdjust="spacingAndGlyphs" stroke="#f0901e" stroke-width="0.35">Weight</text>
<path d="M790.4 358.6 L790.4 368.6 M788 365.6 L790.4 369 L792.8 365.6" fill="none" stroke="#d8d8d8" stroke-width="1.4"/>
<line x1="3" y1="388.92" x2="253" y2="388.92" stroke="#353130" stroke-width="0.9"/>
<rect x="252.50" y="372.32" width="46.40" height="17.02" fill="#a31b12"/>
<text x="297.4" y="385.12" font-size="13.8" fill="#ffffff" text-anchor="end" textLength="32.29" lengthAdjust="spacingAndGlyphs" stroke="#ffffff" stroke-width="0.2">0.661</text>
<rect x="298.90" y="372.32" width="55.00" height="17.02" fill="#dc7038"/>
<text x="352.4" y="385.12" font-size="13.8" fill="#242424" text-anchor="end" textLength="32.29" lengthAdjust="spacingAndGlyphs" stroke="#242424" stroke-width="0.08">0.457</text>
<rect x="353.70" y="372.32" width="55.40" height="17.02" fill="#d05a2c"/>
<text x="407.6" y="385.12" font-size="13.8" fill="#242424" text-anchor="end" textLength="32.29" lengthAdjust="spacingAndGlyphs" stroke="#242424" stroke-width="0.08">0.525</text>
<rect x="408.90" y="372.32" width="55.40" height="17.02" fill="#e27a3e"/>
<text x="462.8" y="385.12" font-size="13.8" fill="#242424" text-anchor="end" textLength="32.29" lengthAdjust="spacingAndGlyphs" stroke="#242424" stroke-width="0.08">0.413</text>
<rect x="463.70" y="372.32" width="55.60" height="17.02" fill="#f4c0a0"/>
<text x="517.8" y="385.12" font-size="13.8" fill="#242424" text-anchor="end" textLength="32.29" lengthAdjust="spacingAndGlyphs" stroke="#242424" stroke-width="0.08">0.219</text>
<rect x="518.70" y="372.32" width="55.60" height="17.02" fill="#f7d6c0"/>
<text x="572.8" y="385.12" font-size="13.8" fill="#242424" text-anchor="end" textLength="32.29" lengthAdjust="spacingAndGlyphs" stroke="#242424" stroke-width="0.08">0.131</text>
<rect x="573.70" y="372.32" width="55.40" height="17.02" fill="#ee9e68"/>
<text x="627.6" y="385.12" font-size="13.8" fill="#242424" text-anchor="end" textLength="32.29" lengthAdjust="spacingAndGlyphs" stroke="#242424" stroke-width="0.08">0.310</text>
<rect x="628.60" y="372.32" width="56.10" height="17.02" fill="#e27c40"/>
<text x="683.2" y="385.12" font-size="13.8" fill="#242424" text-anchor="end" textLength="32.29" lengthAdjust="spacingAndGlyphs" stroke="#242424" stroke-width="0.08">0.406</text>
<rect x="684.00" y="372.32" width="55.70" height="17.02" fill="#ea8a4e"/>
<text x="738.2" y="385.12" font-size="13.8" fill="#242424" text-anchor="end" textLength="32.29" lengthAdjust="spacingAndGlyphs" stroke="#242424" stroke-width="0.08">0.357</text>
<text x="793.6" y="385.12" font-size="13.8" fill="#ffffff" text-anchor="end" textLength="47.39" lengthAdjust="spacingAndGlyphs" stroke="#ffffff" stroke-width="0.2">100.000</text>
<path d="M44.3 378.42 L49.5 378.42 L46.9 382.72 Z" fill="#ffffff"/>
<text y="384.82" font-size="13.8" fill="#ffffff" stroke="#ffffff" stroke-width="0.25"><tspan x="56.9" textLength="27.0" lengthAdjust="spacingAndGlyphs">Core</tspan> <tspan x="88.3" textLength="50.2" lengthAdjust="spacingAndGlyphs">Services</tspan></text>
<line x1="3" y1="405.84" x2="253" y2="405.84" stroke="#353130" stroke-width="0.9"/>
<rect x="252.50" y="389.24" width="46.40" height="17.02" fill="#ae2418"/>
<text x="297.4" y="402.04" font-size="13.8" fill="#ffffff" text-anchor="end" textLength="32.29" lengthAdjust="spacingAndGlyphs" stroke="#ffffff" stroke-width="0.2">0.377</text>
<rect x="298.90" y="389.24" width="55.00" height="17.02" fill="#e07840"/>
<text x="352.4" y="402.04" font-size="13.8" fill="#242424" text-anchor="end" textLength="32.29" lengthAdjust="spacingAndGlyphs" stroke="#242424" stroke-width="0.08">0.253</text>
<rect x="353.70" y="389.24" width="55.40" height="17.02" fill="#e27a40"/>
<text x="407.6" y="402.04" font-size="13.8" fill="#242424" text-anchor="end" textLength="32.29" lengthAdjust="spacingAndGlyphs" stroke="#242424" stroke-width="0.08">0.248</text>
<rect x="408.90" y="389.24" width="55.40" height="17.02" fill="#e8864a"/>
<text x="462.8" y="402.04" font-size="13.8" fill="#242424" text-anchor="end" textLength="32.29" lengthAdjust="spacingAndGlyphs" stroke="#242424" stroke-width="0.08">0.224</text>
<rect x="463.70" y="389.24" width="55.60" height="17.02" fill="#e07a40"/>
<text x="517.8" y="402.04" font-size="13.8" fill="#242424" text-anchor="end" textLength="32.29" lengthAdjust="spacingAndGlyphs" stroke="#242424" stroke-width="0.08">0.239</text>
<rect x="518.70" y="389.24" width="55.60" height="17.02" fill="#f6ceb4"/>
<text x="572.8" y="402.04" font-size="13.8" fill="#242424" text-anchor="end" textLength="32.29" lengthAdjust="spacingAndGlyphs" stroke="#242424" stroke-width="0.08">0.101</text>
<rect x="573.70" y="389.24" width="55.40" height="17.02" fill="#e88848"/>
<text x="627.6" y="402.04" font-size="13.8" fill="#242424" text-anchor="end" textLength="32.29" lengthAdjust="spacingAndGlyphs" stroke="#242424" stroke-width="0.08">0.225</text>
<rect x="628.60" y="389.24" width="56.10" height="17.02" fill="#c84e26"/>
<text x="683.2" y="402.04" font-size="13.8" fill="#ffffff" text-anchor="end" textLength="32.29" lengthAdjust="spacingAndGlyphs" stroke="#ffffff" stroke-width="0.2">0.310</text>
<rect x="684.00" y="389.24" width="55.70" height="17.02" fill="#f3bc98"/>
<text x="738.2" y="402.04" font-size="13.8" fill="#242424" text-anchor="end" textLength="32.29" lengthAdjust="spacingAndGlyphs" stroke="#242424" stroke-width="0.08">0.133</text>
<text x="793.6" y="402.04" font-size="13.8" fill="#f2e88a" text-anchor="end" textLength="40.1" lengthAdjust="spacingAndGlyphs" stroke="#f2e88a" stroke-width="0.2">59.545</text>
<path d="M55.5 394.54 L59.8 397.34 L55.5 400.14 Z" fill="#ffffff"/>
<text y="401.74" font-size="13.8" fill="#f0901e" stroke="#f0901e" stroke-width="0.4"><tspan x="68.8" textLength="41.8" lengthAdjust="spacingAndGlyphs">Shelter</tspan></text>
<line x1="3" y1="422.76" x2="253" y2="422.76" stroke="#353130" stroke-width="0.9"/>
<rect x="252.50" y="406.16" width="46.40" height="17.02" fill="#c84a24"/>
<text x="297.4" y="418.96" font-size="13.8" fill="#ffffff" text-anchor="end" textLength="32.29" lengthAdjust="spacingAndGlyphs" stroke="#ffffff" stroke-width="0.2">0.074</text>
<rect x="298.90" y="406.16" width="55.00" height="17.02" fill="#e4e2f2"/>
<text x="352.4" y="418.96" font-size="13.8" fill="#242424" text-anchor="end" textLength="36.58" lengthAdjust="spacingAndGlyphs" stroke="#242424" stroke-width="0.08">-0.006</text>
<rect x="353.70" y="406.16" width="55.40" height="17.02" fill="#d86a34"/>
<text x="407.6" y="418.96" font-size="13.8" fill="#242424" text-anchor="end" textLength="32.29" lengthAdjust="spacingAndGlyphs" stroke="#242424" stroke-width="0.08">0.059</text>
<rect x="408.90" y="406.16" width="55.40" height="17.02" fill="#e8884c"/>
<text x="462.8" y="418.96" font-size="13.8" fill="#242424" text-anchor="end" textLength="32.29" lengthAdjust="spacingAndGlyphs" stroke="#242424" stroke-width="0.08">0.047</text>
<rect x="463.70" y="406.16" width="55.60" height="17.02" fill="#f0a878"/>
<text x="517.8" y="418.96" font-size="13.8" fill="#242424" text-anchor="end" textLength="32.29" lengthAdjust="spacingAndGlyphs" stroke="#242424" stroke-width="0.08">0.036</text>
<rect x="518.70" y="406.16" width="55.60" height="17.02" fill="#f7d6c0"/>
<text x="572.8" y="418.96" font-size="13.8" fill="#242424" text-anchor="end" textLength="32.29" lengthAdjust="spacingAndGlyphs" stroke="#242424" stroke-width="0.08">0.018</text>
<rect x="573.70" y="406.16" width="55.40" height="17.02" fill="#8d89cc"/>
<text x="627.6" y="418.96" font-size="13.8" fill="#242424" text-anchor="end" textLength="36.58" lengthAdjust="spacingAndGlyphs" stroke="#242424" stroke-width="0.08">-0.036</text>
<rect x="628.60" y="406.16" width="56.10" height="17.02" fill="#d8d6ee"/>
<text x="683.2" y="418.96" font-size="13.8" fill="#242424" text-anchor="end" textLength="36.58" lengthAdjust="spacingAndGlyphs" stroke="#242424" stroke-width="0.08">-0.010</text>
<rect x="684.00" y="406.16" width="55.70" height="17.02" fill="#c44a24"/>
<text x="738.2" y="418.96" font-size="13.8" fill="#ffffff" text-anchor="end" textLength="32.29" lengthAdjust="spacingAndGlyphs" stroke="#ffffff" stroke-width="0.2">0.070</text>
<text x="793.6" y="418.96" font-size="13.8" fill="#f2e88a" text-anchor="end" textLength="40.1" lengthAdjust="spacingAndGlyphs" stroke="#f2e88a" stroke-width="0.2">10.568</text>
<path d="M55.5 411.46 L59.8 414.26 L55.5 417.06 Z" fill="#ffffff"/>
<text y="418.66" font-size="13.8" fill="#f0901e" stroke="#f0901e" stroke-width="0.4"><tspan x="68.8" textLength="43.3" lengthAdjust="spacingAndGlyphs">Medical</tspan> <tspan x="117.1" textLength="26.9" lengthAdjust="spacingAndGlyphs">Care</tspan> <tspan x="149.7" textLength="49.4" lengthAdjust="spacingAndGlyphs">Services</tspan></text>
<line x1="3" y1="439.68" x2="253" y2="439.68" stroke="#353130" stroke-width="0.9"/>
<rect x="252.50" y="423.08" width="46.40" height="17.02" fill="#f0b48c"/>
<text x="297.4" y="435.88" font-size="13.8" fill="#242424" text-anchor="end" textLength="32.29" lengthAdjust="spacingAndGlyphs" stroke="#242424" stroke-width="0.08">0.100</text>
<rect x="298.90" y="423.08" width="55.00" height="17.02" fill="#e8864a"/>
<text x="352.4" y="435.88" font-size="13.8" fill="#242424" text-anchor="end" textLength="32.29" lengthAdjust="spacingAndGlyphs" stroke="#242424" stroke-width="0.08">0.143</text>
<rect x="353.70" y="423.08" width="55.40" height="17.02" fill="#e4803e"/>
<text x="407.6" y="435.88" font-size="13.8" fill="#242424" text-anchor="end" textLength="32.29" lengthAdjust="spacingAndGlyphs" stroke="#242424" stroke-width="0.08">0.160</text>
<rect x="408.90" y="423.08" width="55.40" height="17.02" fill="#f3bc98"/>
<text x="462.8" y="435.88" font-size="13.8" fill="#242424" text-anchor="end" textLength="32.29" lengthAdjust="spacingAndGlyphs" stroke="#242424" stroke-width="0.08">0.092</text>
<rect x="463.70" y="423.08" width="55.60" height="17.02" fill="#dedcf0"/>
<text x="517.8" y="435.88" font-size="13.8" fill="#242424" text-anchor="end" textLength="36.58" lengthAdjust="spacingAndGlyphs" stroke="#242424" stroke-width="0.08">-0.054</text>
<rect x="518.70" y="423.08" width="55.60" height="17.02" fill="#dcdaf0"/>
<text x="572.8" y="435.88" font-size="13.8" fill="#242424" text-anchor="end" textLength="36.58" lengthAdjust="spacingAndGlyphs" stroke="#242424" stroke-width="0.08">-0.059</text>
<rect x="573.70" y="423.08" width="55.40" height="17.02" fill="#f7d8c4"/>
<text x="627.6" y="435.88" font-size="13.8" fill="#242424" text-anchor="end" textLength="32.29" lengthAdjust="spacingAndGlyphs" stroke="#242424" stroke-width="0.08">0.044</text>
<rect x="628.60" y="423.08" width="56.10" height="17.02" fill="#f2b48c"/>
<text x="683.2" y="435.88" font-size="13.8" fill="#242424" text-anchor="end" textLength="32.29" lengthAdjust="spacingAndGlyphs" stroke="#242424" stroke-width="0.08">0.094</text>
<rect x="684.00" y="423.08" width="55.70" height="17.02" fill="#ea8c50"/>
<text x="738.2" y="435.88" font-size="13.8" fill="#242424" text-anchor="end" textLength="32.29" lengthAdjust="spacingAndGlyphs" stroke="#242424" stroke-width="0.08">0.142</text>
<text x="793.6" y="435.88" font-size="13.8" fill="#f2e88a" text-anchor="end" textLength="40.1" lengthAdjust="spacingAndGlyphs" stroke="#f2e88a" stroke-width="0.2">10.534</text>
<path d="M55.5 428.38 L59.8 431.18 L55.5 433.98 Z" fill="#ffffff"/>
<text y="435.58" font-size="13.8" fill="#f0901e" stroke="#f0901e" stroke-width="0.4"><tspan x="68.8" textLength="85.9" lengthAdjust="spacingAndGlyphs">Transportation</tspan> <tspan x="160.3" textLength="50.1" lengthAdjust="spacingAndGlyphs">Services</tspan></text>
<line x1="3" y1="456.60" x2="253" y2="456.60" stroke="#353130" stroke-width="0.9"/>
<rect x="252.50" y="440.00" width="46.40" height="17.02" fill="#f3c3a3"/>
<text x="297.4" y="452.8" font-size="13.8" fill="#242424" text-anchor="end" textLength="32.29" lengthAdjust="spacingAndGlyphs" stroke="#242424" stroke-width="0.08">0.034</text>
<rect x="298.90" y="440.00" width="55.00" height="17.02" fill="#f0a878"/>
<text x="352.4" y="452.8" font-size="13.8" fill="#242424" text-anchor="end" textLength="32.29" lengthAdjust="spacingAndGlyphs" stroke="#242424" stroke-width="0.08">0.037</text>
<rect x="353.70" y="440.00" width="55.40" height="17.02" fill="#f6dccb"/>
<text x="407.6" y="452.8" font-size="13.8" fill="#242424" text-anchor="end" textLength="32.29" lengthAdjust="spacingAndGlyphs" stroke="#242424" stroke-width="0.08">0.016</text>
<rect x="408.90" y="440.00" width="55.40" height="17.02" fill="#f6d8c4"/>
<text x="462.8" y="452.8" font-size="13.8" fill="#242424" text-anchor="end" textLength="32.29" lengthAdjust="spacingAndGlyphs" stroke="#242424" stroke-width="0.08">0.019</text>
<rect x="463.70" y="440.00" width="55.60" height="17.02" fill="#f5ccb0"/>
<text x="517.8" y="452.8" font-size="13.8" fill="#242424" text-anchor="end" textLength="32.29" lengthAdjust="spacingAndGlyphs" stroke="#242424" stroke-width="0.08">0.021</text>
<rect x="518.70" y="440.00" width="55.60" height="17.02" fill="#f6f4f4"/>
<text x="572.8" y="452.8" font-size="13.8" fill="#242424" text-anchor="end" textLength="32.29" lengthAdjust="spacingAndGlyphs" stroke="#242424" stroke-width="0.08">0.000</text>
<rect x="573.70" y="440.00" width="55.40" height="17.02" fill="#f7e4d8"/>
<text x="627.6" y="452.8" font-size="13.8" fill="#242424" text-anchor="end" textLength="32.29" lengthAdjust="spacingAndGlyphs" stroke="#242424" stroke-width="0.08">0.013</text>
<rect x="628.60" y="440.00" width="56.10" height="17.02" fill="#f7dfd0"/>
<text x="683.2" y="452.8" font-size="13.8" fill="#242424" text-anchor="end" textLength="32.29" lengthAdjust="spacingAndGlyphs" stroke="#242424" stroke-width="0.08">0.014</text>
<rect x="684.00" y="440.00" width="55.70" height="17.02" fill="#f8ece4"/>
<text x="738.2" y="452.8" font-size="13.8" fill="#242424" text-anchor="end" textLength="32.29" lengthAdjust="spacingAndGlyphs" stroke="#242424" stroke-width="0.08">0.008</text>
<text x="793.6" y="452.8" font-size="13.8" fill="#f2e88a" text-anchor="end" textLength="32.8" lengthAdjust="spacingAndGlyphs" stroke="#f2e88a" stroke-width="0.2">8.158</text>
<path d="M55.5 445.30 L59.8 448.10 L55.5 450.90 Z" fill="#ffffff"/>
<text y="452.5" font-size="13.8" fill="#f0901e" stroke="#f0901e" stroke-width="0.4"><tspan x="68.8" textLength="56.9" lengthAdjust="spacingAndGlyphs">Education</tspan> <tspan x="130.2" textLength="20.0" lengthAdjust="spacingAndGlyphs">And</tspan> <tspan x="155.7" textLength="91.8" lengthAdjust="spacingAndGlyphs">Communicatio..</tspan></text>
<line x1="3" y1="473.52" x2="253" y2="473.52" stroke="#353130" stroke-width="0.9"/>
<rect x="252.50" y="456.92" width="46.40" height="17.02" fill="#f4c8aa"/>
<text x="297.4" y="469.72" font-size="13.8" fill="#242424" text-anchor="end" textLength="32.29" lengthAdjust="spacingAndGlyphs" stroke="#242424" stroke-width="0.08">0.021</text>
<rect x="298.90" y="456.92" width="55.00" height="17.02" fill="#f0a878"/>
<text x="352.4" y="469.72" font-size="13.8" fill="#242424" text-anchor="end" textLength="32.29" lengthAdjust="spacingAndGlyphs" stroke="#242424" stroke-width="0.08">0.024</text>
<rect x="353.70" y="456.92" width="55.40" height="17.02" fill="#f8efe9"/>
<text x="407.6" y="469.72" font-size="13.8" fill="#242424" text-anchor="end" textLength="32.29" lengthAdjust="spacingAndGlyphs" stroke="#242424" stroke-width="0.08">0.003</text>
<rect x="408.90" y="456.92" width="55.40" height="17.02" fill="#f5ccb0"/>
<text x="462.8" y="469.72" font-size="13.8" fill="#242424" text-anchor="end" textLength="32.29" lengthAdjust="spacingAndGlyphs" stroke="#242424" stroke-width="0.08">0.018</text>
<rect x="463.70" y="456.92" width="55.60" height="17.02" fill="#d8d6ee"/>
<text x="517.8" y="469.72" font-size="13.8" fill="#242424" text-anchor="end" textLength="35.63" lengthAdjust="spacingAndGlyphs" stroke="#242424" stroke-width="0.08">-0.011</text>
<rect x="518.70" y="456.92" width="55.60" height="17.02" fill="#e6e4f2"/>
<text x="572.8" y="469.72" font-size="13.8" fill="#242424" text-anchor="end" textLength="36.58" lengthAdjust="spacingAndGlyphs" stroke="#242424" stroke-width="0.08">-0.006</text>
<rect x="573.70" y="456.92" width="55.40" height="17.02" fill="#f4c0a0"/>
<text x="627.6" y="469.72" font-size="13.8" fill="#242424" text-anchor="end" textLength="32.29" lengthAdjust="spacingAndGlyphs" stroke="#242424" stroke-width="0.08">0.022</text>
<rect x="628.60" y="456.92" width="56.10" height="17.02" fill="#f6f2f0"/>
<text x="683.2" y="469.72" font-size="13.8" fill="#242424" text-anchor="end" textLength="32.29" lengthAdjust="spacingAndGlyphs" stroke="#242424" stroke-width="0.08">0.001</text>
<rect x="684.00" y="456.92" width="55.70" height="17.02" fill="#aeaadc"/>
<text x="738.2" y="469.72" font-size="13.8" fill="#242424" text-anchor="end" textLength="36.58" lengthAdjust="spacingAndGlyphs" stroke="#242424" stroke-width="0.08">-0.025</text>
<text x="793.6" y="469.72" font-size="13.8" fill="#f2e88a" text-anchor="end" textLength="32.8" lengthAdjust="spacingAndGlyphs" stroke="#f2e88a" stroke-width="0.2">5.272</text>
<path d="M55.5 462.22 L59.8 465.02 L55.5 467.82 Z" fill="#ffffff"/>
<text y="469.42" font-size="13.8" fill="#f0901e" stroke="#f0901e" stroke-width="0.4"><tspan x="68.8" textLength="63.9" lengthAdjust="spacingAndGlyphs">Recreation</tspan> <tspan x="137.7" textLength="50.1" lengthAdjust="spacingAndGlyphs">Services</tspan></text>
<line x1="3" y1="490.44" x2="253" y2="490.44" stroke="#353130" stroke-width="0.9"/>
<rect x="252.50" y="473.84" width="46.40" height="17.02" fill="#d96a34"/>
<text x="297.4" y="486.64" font-size="13.8" fill="#242424" text-anchor="end" textLength="32.29" lengthAdjust="spacingAndGlyphs" stroke="#242424" stroke-width="0.08">0.024</text>
<rect x="298.90" y="473.84" width="55.00" height="17.02" fill="#3b3a7a"/>
<text x="352.4" y="486.64" font-size="13.8" fill="#ffffff" text-anchor="end" textLength="36.58" lengthAdjust="spacingAndGlyphs" stroke="#ffffff" stroke-width="0.2">-0.016</text>
<rect x="353.70" y="473.84" width="55.40" height="17.02" fill="#e88444"/>
<text x="407.6" y="486.64" font-size="13.8" fill="#242424" text-anchor="end" textLength="32.29" lengthAdjust="spacingAndGlyphs" stroke="#242424" stroke-width="0.08">0.019</text>
<rect x="408.90" y="473.84" width="55.40" height="17.02" fill="#d2602c"/>
<text x="462.8" y="486.64" font-size="13.8" fill="#242424" text-anchor="end" textLength="32.29" lengthAdjust="spacingAndGlyphs" stroke="#242424" stroke-width="0.08">0.026</text>
<rect x="463.70" y="473.84" width="55.60" height="17.02" fill="#8a86c8"/>
<text x="517.8" y="486.64" font-size="13.8" fill="#242424" text-anchor="end" textLength="36.58" lengthAdjust="spacingAndGlyphs" stroke="#242424" stroke-width="0.08">-0.008</text>
<rect x="518.70" y="473.84" width="55.60" height="17.02" fill="#e07a40"/>
<text x="572.8" y="486.64" font-size="13.8" fill="#242424" text-anchor="end" textLength="32.29" lengthAdjust="spacingAndGlyphs" stroke="#242424" stroke-width="0.08">0.023</text>
<rect x="573.70" y="473.84" width="55.40" height="17.02" fill="#f6d4bc"/>
<text x="627.6" y="486.64" font-size="13.8" fill="#242424" text-anchor="end" textLength="32.29" lengthAdjust="spacingAndGlyphs" stroke="#242424" stroke-width="0.08">0.007</text>
<rect x="628.60" y="473.84" width="56.10" height="17.02" fill="#f7dccc"/>
<text x="683.2" y="486.64" font-size="13.8" fill="#242424" text-anchor="end" textLength="32.29" lengthAdjust="spacingAndGlyphs" stroke="#242424" stroke-width="0.08">0.005</text>
<rect x="684.00" y="473.84" width="55.70" height="17.02" fill="#f8e8de"/>
<text x="738.2" y="486.64" font-size="13.8" fill="#242424" text-anchor="end" textLength="32.29" lengthAdjust="spacingAndGlyphs" stroke="#242424" stroke-width="0.08">0.003</text>
<text x="793.6" y="486.64" font-size="13.8" fill="#f2e88a" text-anchor="end" textLength="32.8" lengthAdjust="spacingAndGlyphs" stroke="#f2e88a" stroke-width="0.2">2.505</text>
<path d="M55.5 479.14 L59.8 481.94 L55.5 484.74 Z" fill="#ffffff"/>
<text y="486.34" font-size="13.8" fill="#f0901e" stroke="#f0901e" stroke-width="0.4"><tspan x="68.8" textLength="30.8" lengthAdjust="spacingAndGlyphs">Other</tspan> <tspan x="107.1" textLength="50.6" lengthAdjust="spacingAndGlyphs">Personal</tspan> <tspan x="163.3" textLength="49.6" lengthAdjust="spacingAndGlyphs">Services</tspan></text>
<line x1="3" y1="507.36" x2="253" y2="507.36" stroke="#353130" stroke-width="0.9"/>
<rect x="252.50" y="490.76" width="46.40" height="17.02" fill="#8a0a0a"/>
<text x="297.4" y="503.56" font-size="13.8" fill="#ffffff" text-anchor="end" textLength="32.29" lengthAdjust="spacingAndGlyphs" stroke="#ffffff" stroke-width="0.2">0.020</text>
<rect x="298.90" y="490.76" width="55.00" height="17.02" fill="#f0a474"/>
<text x="352.4" y="503.56" font-size="13.8" fill="#242424" text-anchor="end" textLength="32.29" lengthAdjust="spacingAndGlyphs" stroke="#242424" stroke-width="0.08">0.008</text>
<rect x="353.70" y="490.76" width="55.40" height="17.02" fill="#f4c4a4"/>
<text x="407.6" y="503.56" font-size="13.8" fill="#242424" text-anchor="end" textLength="32.29" lengthAdjust="spacingAndGlyphs" stroke="#242424" stroke-width="0.08">0.005</text>
<rect x="408.90" y="490.76" width="55.40" height="17.02" fill="#f2b088"/>
<text x="462.8" y="503.56" font-size="13.8" fill="#242424" text-anchor="end" textLength="32.29" lengthAdjust="spacingAndGlyphs" stroke="#242424" stroke-width="0.08">0.007</text>
<rect x="463.70" y="490.76" width="55.60" height="17.02" fill="#f8e6da"/>
<text x="517.8" y="503.56" font-size="13.8" fill="#242424" text-anchor="end" textLength="32.29" lengthAdjust="spacingAndGlyphs" stroke="#242424" stroke-width="0.08">0.002</text>
<rect x="518.70" y="490.76" width="55.60" height="17.02" fill="#f6d0b8"/>
<text x="572.8" y="503.56" font-size="13.8" fill="#242424" text-anchor="end" textLength="32.29" lengthAdjust="spacingAndGlyphs" stroke="#242424" stroke-width="0.08">0.004</text>
<rect x="573.70" y="490.76" width="55.40" height="17.02" fill="#f0a474"/>
<text x="627.6" y="503.56" font-size="13.8" fill="#242424" text-anchor="end" textLength="32.29" lengthAdjust="spacingAndGlyphs" stroke="#242424" stroke-width="0.08">0.008</text>
<rect x="628.60" y="490.76" width="56.10" height="17.02" fill="#f6d8c4"/>
<text x="683.2" y="503.56" font-size="13.8" fill="#242424" text-anchor="end" textLength="32.29" lengthAdjust="spacingAndGlyphs" stroke="#242424" stroke-width="0.08">0.003</text>
<rect x="684.00" y="490.76" width="55.70" height="17.02" fill="#d4602e"/>
<text x="738.2" y="503.56" font-size="13.8" fill="#242424" text-anchor="end" textLength="32.29" lengthAdjust="spacingAndGlyphs" stroke="#242424" stroke-width="0.08">0.013</text>
<text x="793.6" y="503.56" font-size="13.8" fill="#f2e88a" text-anchor="end" textLength="32.8" lengthAdjust="spacingAndGlyphs" stroke="#f2e88a" stroke-width="0.2">1.787</text>
<path d="M55.5 496.06 L59.8 498.86 L55.5 501.66 Z" fill="#ffffff"/>
<text y="503.26" font-size="13.8" fill="#f0901e" stroke="#f0901e" stroke-width="0.4"><tspan x="68.8" textLength="35.8" lengthAdjust="spacingAndGlyphs">Water,</tspan> <tspan x="111.4" textLength="32.6" lengthAdjust="spacingAndGlyphs">Sewer</tspan> <tspan x="150.7" textLength="20.8" lengthAdjust="spacingAndGlyphs">and</tspan> <tspan x="177.8" textLength="30.1" lengthAdjust="spacingAndGlyphs">Trash</tspan> <tspan x="214.1" textLength="36.9" lengthAdjust="spacingAndGlyphs">Colle..</tspan></text>
<line x1="298.90" y1="372.42" x2="298.90" y2="509" stroke="#000" stroke-opacity="0.35" stroke-width="1"/>
<line x1="298.90" y1="355.50" x2="298.90" y2="371.50" stroke="#111" stroke-width="1"/>
<line x1="353.90" y1="372.42" x2="353.90" y2="509" stroke="#000" stroke-opacity="0.35" stroke-width="1"/>
<line x1="353.90" y1="355.50" x2="353.90" y2="371.50" stroke="#111" stroke-width="1"/>
<line x1="409.10" y1="372.42" x2="409.10" y2="509" stroke="#000" stroke-opacity="0.35" stroke-width="1"/>
<line x1="409.10" y1="355.50" x2="409.10" y2="371.50" stroke="#111" stroke-width="1"/>
<line x1="464.30" y1="372.42" x2="464.30" y2="509" stroke="#000" stroke-opacity="0.35" stroke-width="1"/>
<line x1="464.30" y1="355.50" x2="464.30" y2="371.50" stroke="#111" stroke-width="1"/>
<line x1="519.30" y1="372.42" x2="519.30" y2="509" stroke="#000" stroke-opacity="0.35" stroke-width="1"/>
<line x1="519.30" y1="355.50" x2="519.30" y2="371.50" stroke="#111" stroke-width="1"/>
<line x1="574.30" y1="372.42" x2="574.30" y2="509" stroke="#000" stroke-opacity="0.35" stroke-width="1"/>
<line x1="574.30" y1="355.50" x2="574.30" y2="371.50" stroke="#111" stroke-width="1"/>
<line x1="629.10" y1="372.42" x2="629.10" y2="509" stroke="#000" stroke-opacity="0.35" stroke-width="1"/>
<line x1="629.10" y1="355.50" x2="629.10" y2="371.50" stroke="#111" stroke-width="1"/>
<line x1="684.70" y1="372.42" x2="684.70" y2="509" stroke="#000" stroke-opacity="0.35" stroke-width="1"/>
<line x1="684.70" y1="355.50" x2="684.70" y2="371.50" stroke="#111" stroke-width="1"/>
<line x1="739.70" y1="372.42" x2="739.70" y2="509" stroke="#000" stroke-opacity="0.35" stroke-width="1"/>
<line x1="739.70" y1="355.50" x2="739.70" y2="371.50" stroke="#111" stroke-width="1"/>
<line x1="252.7" y1="355.50" x2="252.7" y2="371.50" stroke="#111" stroke-width="1"/>
<rect x="24.00" y="358.90" width="9.40" height="9.40" fill="#2b86e8"/>
<path d="M26.20 363.88 L28.14 365.48 L31.40 361.91" fill="none" stroke="#081830" stroke-width="2.0"/>
<path fill-rule="evenodd" d="M9.9 358.30 L12.2 361.40 L15.3 363.70 L12.2 366.00 L9.9 369.10 L7.6000000000000005 366.00 L4.5 363.70 L7.6000000000000005 361.40 Z M7.800000000000001 363.70 a2.1 2.1 0 1 0 4.2 0 a2.1 2.1 0 1 0 -4.2 0 Z" fill="#f0f0f0" stroke="#f0f0f0" stroke-width="0.5" stroke-linejoin="round"/>
<rect x="24.00" y="375.82" width="9.40" height="9.40" fill="#2b86e8"/>
<path d="M26.20 380.80 L28.14 382.40 L31.40 378.83" fill="none" stroke="#081830" stroke-width="2.0"/>
<path d="M10.2 378.62 L12.2 378.62 A3.1 3.1 0 0 1 12.2 384.92 L8.2 384.92" fill="none" stroke="#f0f0f0" stroke-width="1.8" stroke-linecap="round"/><path d="M10.4 375.02 L5.2 378.62 L10.4 382.22 Z" fill="#f0f0f0"/>
<rect x="24.00" y="392.74" width="9.40" height="9.40" fill="#2b86e8"/>
<path d="M26.20 397.72 L28.14 399.32 L31.40 395.75" fill="none" stroke="#081830" stroke-width="2.0"/>
<path fill-rule="evenodd" d="M9.9 392.14 L12.2 395.24 L15.3 397.54 L12.2 399.84 L9.9 402.94 L7.6000000000000005 399.84 L4.5 397.54 L7.6000000000000005 395.24 Z M7.800000000000001 397.54 a2.1 2.1 0 1 0 4.2 0 a2.1 2.1 0 1 0 -4.2 0 Z" fill="#f0f0f0" stroke="#f0f0f0" stroke-width="0.5" stroke-linejoin="round"/>
<rect x="24.00" y="409.66" width="9.40" height="9.40" fill="#2b86e8"/>
<path d="M26.20 414.64 L28.14 416.24 L31.40 412.67" fill="none" stroke="#081830" stroke-width="2.0"/>
<path fill-rule="evenodd" d="M9.9 409.06 L12.2 412.16 L15.3 414.46 L12.2 416.76 L9.9 419.86 L7.6000000000000005 416.76 L4.5 414.46 L7.6000000000000005 412.16 Z M7.800000000000001 414.46 a2.1 2.1 0 1 0 4.2 0 a2.1 2.1 0 1 0 -4.2 0 Z" fill="#f0f0f0" stroke="#f0f0f0" stroke-width="0.5" stroke-linejoin="round"/>
<rect x="24.00" y="426.58" width="9.40" height="9.40" fill="#2b86e8"/>
<path d="M26.20 431.56 L28.14 433.16 L31.40 429.59" fill="none" stroke="#081830" stroke-width="2.0"/>
<path fill-rule="evenodd" d="M9.9 425.98 L12.2 429.08 L15.3 431.38 L12.2 433.68 L9.9 436.78 L7.6000000000000005 433.68 L4.5 431.38 L7.6000000000000005 429.08 Z M7.800000000000001 431.38 a2.1 2.1 0 1 0 4.2 0 a2.1 2.1 0 1 0 -4.2 0 Z" fill="#f0f0f0" stroke="#f0f0f0" stroke-width="0.5" stroke-linejoin="round"/>
<rect x="24.00" y="443.50" width="9.40" height="9.40" fill="#2b86e8"/>
<path d="M26.20 448.48 L28.14 450.08 L31.40 446.51" fill="none" stroke="#081830" stroke-width="2.0"/>
<path fill-rule="evenodd" d="M9.9 442.90 L12.2 446.00 L15.3 448.30 L12.2 450.60 L9.9 453.70 L7.6000000000000005 450.60 L4.5 448.30 L7.6000000000000005 446.00 Z M7.800000000000001 448.30 a2.1 2.1 0 1 0 4.2 0 a2.1 2.1 0 1 0 -4.2 0 Z" fill="#f0f0f0" stroke="#f0f0f0" stroke-width="0.5" stroke-linejoin="round"/>
<rect x="24.00" y="460.42" width="9.40" height="9.40" fill="#2b86e8"/>
<path d="M26.20 465.40 L28.14 467.00 L31.40 463.43" fill="none" stroke="#081830" stroke-width="2.0"/>
<path fill-rule="evenodd" d="M9.9 459.82 L12.2 462.92 L15.3 465.22 L12.2 467.52 L9.9 470.62 L7.6000000000000005 467.52 L4.5 465.22 L7.6000000000000005 462.92 Z M7.800000000000001 465.22 a2.1 2.1 0 1 0 4.2 0 a2.1 2.1 0 1 0 -4.2 0 Z" fill="#f0f0f0" stroke="#f0f0f0" stroke-width="0.5" stroke-linejoin="round"/>
<rect x="24.00" y="477.34" width="9.40" height="9.40" fill="#2b86e8"/>
<path d="M26.20 482.32 L28.14 483.92 L31.40 480.35" fill="none" stroke="#081830" stroke-width="2.0"/>
<path fill-rule="evenodd" d="M9.9 476.74 L12.2 479.84 L15.3 482.14 L12.2 484.44 L9.9 487.54 L7.6000000000000005 484.44 L4.5 482.14 L7.6000000000000005 479.84 Z M7.800000000000001 482.14 a2.1 2.1 0 1 0 4.2 0 a2.1 2.1 0 1 0 -4.2 0 Z" fill="#f0f0f0" stroke="#f0f0f0" stroke-width="0.5" stroke-linejoin="round"/>
<rect x="24.00" y="494.26" width="9.40" height="9.40" fill="#2b86e8"/>
<path d="M26.20 499.24 L28.14 500.84 L31.40 497.27" fill="none" stroke="#081830" stroke-width="2.0"/>
<path fill-rule="evenodd" d="M9.9 493.66 L12.2 496.76 L15.3 499.06 L12.2 501.36 L9.9 504.46 L7.6000000000000005 501.36 L4.5 499.06 L7.6000000000000005 496.76 Z M7.800000000000001 499.06 a2.1 2.1 0 1 0 4.2 0 a2.1 2.1 0 1 0 -4.2 0 Z" fill="#f0f0f0" stroke="#f0f0f0" stroke-width="0.5" stroke-linejoin="round"/>
<line x1="794.4" y1="355" x2="794.4" y2="509" stroke="#2e2e2e" stroke-width="1"/>
<line x1="17.4" y1="355.5" x2="17.4" y2="509" stroke="#3a3a3a" stroke-width="0.9"/>
<line x1="38" y1="355.5" x2="38" y2="509" stroke="#3a3a3a" stroke-width="0.9"/>
</svg>
</body></html>
